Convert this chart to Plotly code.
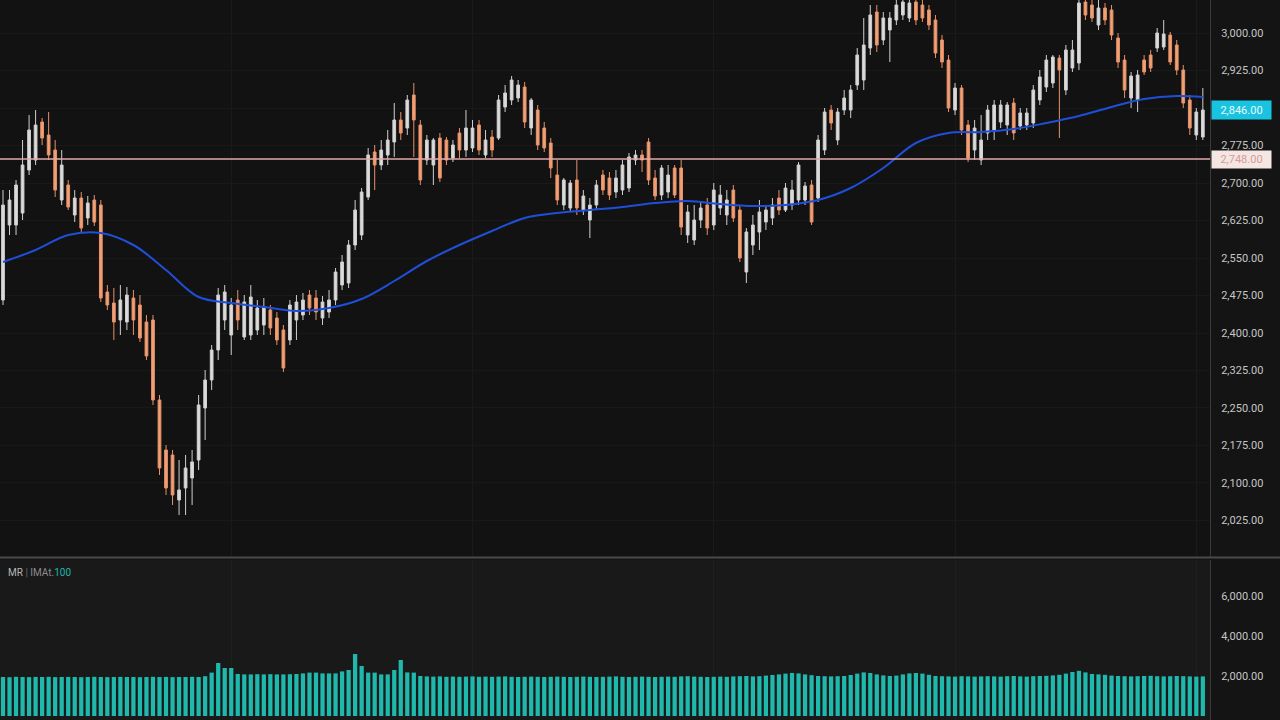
import plotly.graph_objects as go

# ---------------- data ----------------
idx = list(range(185))

open_ = [2466, 2616, 2616, 2640, 2726, 2746, 2822, 2796, 2766, 2666,
         2696, 2636, 2670, 2630, 2666, 2656, 2482, 2460, 2426, 2422,
         2470, 2456, 2422, 2426, 2266, 2166, 2156, 2066, 2090, 2110,
         2146, 2250, 2306, 2366, 2426, 2396, 2466, 2392, 2396, 2406,
         2416, 2446, 2430, 2406, 2386, 2426, 2436, 2476, 2470, 2430,
         2442, 2466, 2496, 2500, 2576, 2596, 2672, 2762, 2736, 2756,
         2782, 2826, 2810, 2876, 2816, 2746, 2736, 2790, 2786, 2750,
         2800, 2766, 2770, 2816, 2756, 2792, 2790, 2852, 2866, 2870,
         2892, 2810, 2846, 2810, 2780, 2716, 2656, 2650, 2706, 2646,
         2626, 2656, 2716, 2710, 2682, 2686, 2690, 2746, 2756, 2782,
         2710, 2676, 2682, 2730, 2730, 2596, 2586, 2626, 2656, 2616,
         2650, 2636, 2686, 2646, 2522, 2576, 2602, 2622, 2630, 2670,
         2646, 2656, 2666, 2666, 2696, 2670, 2766, 2846, 2786, 2846,
         2846, 2896, 2906, 2970, 3042, 2986, 3006, 3026, 3036, 3030,
         3062, 3056, 3046, 3026, 2986, 2946, 2846, 2890, 2816, 2766,
         2746, 2800, 2806, 2822, 2816, 2860, 2814, 2816, 2820, 2866,
         2892, 2900, 2950, 2886, 2930, 2940, 3062, 3056, 3016, 3050,
         3046, 2990, 2946, 2870, 2866, 2946, 2956, 2970, 2972, 2996,
         2976, 2926, 2866, 2796, 2792]

close = [2656, 2666, 2696, 2736, 2806, 2816, 2790, 2756, 2686, 2736,
         2652, 2670, 2610, 2660, 2622, 2470, 2456, 2422, 2466, 2476,
         2426, 2390, 2354, 2266, 2130, 2090, 2076, 2086, 2130, 2142,
         2256, 2306, 2366, 2476, 2482, 2456, 2426, 2462, 2472, 2450,
         2452, 2410, 2386, 2330, 2456, 2462, 2466, 2450, 2442, 2462,
         2466, 2522, 2542, 2576, 2646, 2682, 2756, 2736, 2766, 2786,
         2826, 2800, 2866, 2826, 2706, 2786, 2786, 2710, 2746, 2776,
         2766, 2810, 2810, 2766, 2786, 2766, 2866, 2880, 2906, 2896,
         2822, 2866, 2776, 2770, 2730, 2666, 2706, 2700, 2650, 2674,
         2656, 2696, 2686, 2676, 2710, 2736, 2752, 2756, 2746, 2706,
         2674, 2730, 2716, 2676, 2612, 2642, 2626, 2650, 2610, 2686,
         2676, 2666, 2630, 2550, 2602, 2616, 2642, 2646, 2656, 2646,
         2690, 2686, 2736, 2694, 2622, 2786, 2842, 2820, 2842, 2870,
         2886, 2956, 2976, 3036, 2976, 3030, 3030, 3056, 3062, 3060,
         3026, 3030, 3016, 2960, 2942, 2850, 2890, 2806, 2750, 2810,
         2786, 2846, 2856, 2856, 2856, 2800, 2840, 2840, 2886, 2912,
         2946, 2952, 2926, 2966, 2966, 3060, 3036, 3030, 3050, 3026,
         2996, 2942, 2886, 2914, 2916, 2922, 2930, 3000, 2998, 2942,
         2926, 2860, 2810, 2842, 2846]

high = [2686, 2686, 2706, 2786, 2836, 2846, 2830, 2842, 2786, 2766,
        2706, 2686, 2682, 2674, 2676, 2666, 2496, 2490, 2496, 2492,
        2486, 2476, 2436, 2436, 2276, 2176, 2166, 2146, 2156, 2166,
        2276, 2326, 2376, 2490, 2496, 2470, 2486, 2476, 2496, 2466,
        2470, 2456, 2442, 2416, 2466, 2476, 2480, 2486, 2486, 2474,
        2486, 2530, 2556, 2586, 2666, 2690, 2770, 2776, 2786, 2806,
        2860, 2842, 2876, 2900, 2826, 2796, 2790, 2800, 2792, 2786,
        2810, 2846, 2826, 2826, 2806, 2806, 2876, 2896, 2914, 2906,
        2902, 2870, 2856, 2822, 2790, 2746, 2710, 2706, 2746, 2686,
        2670, 2706, 2726, 2722, 2726, 2746, 2760, 2766, 2766, 2790,
        2726, 2736, 2736, 2736, 2746, 2656, 2656, 2662, 2670, 2700,
        2696, 2686, 2696, 2656, 2610, 2636, 2666, 2656, 2670, 2686,
        2700, 2706, 2742, 2702, 2706, 2796, 2850, 2856, 2850, 2886,
        2896, 2970, 3030, 3056, 3056, 3042, 3042, 3066, 3066, 3066,
        3066, 3066, 3056, 3036, 2996, 2956, 2900, 2896, 2826, 2826,
        2836, 2856, 2866, 2866, 2862, 2870, 2850, 2850, 2896, 2926,
        2956, 2956, 2956, 2976, 2986, 3066, 3066, 3066, 3066, 3060,
        3056, 3000, 2956, 2922, 2926, 2956, 2966, 3010, 3026, 3002,
        2986, 2936, 2876, 2850, 2890]

low = [2456, 2596, 2596, 2626, 2716, 2736, 2776, 2746, 2672, 2656,
       2646, 2622, 2602, 2616, 2614, 2462, 2446, 2386, 2396, 2406,
       2396, 2382, 2346, 2256, 2116, 2076, 2056, 2036, 2036, 2056,
       2126, 2186, 2286, 2346, 2406, 2356, 2406, 2386, 2386, 2396,
       2396, 2396, 2376, 2322, 2376, 2386, 2426, 2436, 2426, 2416,
       2430, 2456, 2486, 2490, 2566, 2586, 2666, 2686, 2726, 2736,
       2752, 2786, 2796, 2752, 2696, 2736, 2696, 2702, 2736, 2742,
       2750, 2752, 2762, 2756, 2750, 2752, 2786, 2842, 2856, 2862,
       2810, 2796, 2766, 2762, 2710, 2656, 2646, 2642, 2636, 2636,
       2590, 2646, 2676, 2666, 2670, 2676, 2682, 2736, 2722, 2696,
       2666, 2666, 2670, 2670, 2596, 2580, 2576, 2610, 2596, 2606,
       2636, 2616, 2622, 2542, 2500, 2556, 2566, 2606, 2616, 2636,
       2642, 2646, 2656, 2656, 2616, 2662, 2756, 2806, 2776, 2836,
       2830, 2886, 2886, 2956, 2962, 2976, 2942, 3016, 3026, 3022,
       3016, 3022, 3006, 2950, 2930, 2842, 2836, 2796, 2742, 2746,
       2736, 2786, 2786, 2810, 2796, 2786, 2806, 2806, 2810, 2856,
       2882, 2890, 2790, 2876, 2922, 2926, 3026, 3022, 3006, 3016,
       2986, 2930, 2870, 2850, 2842, 2916, 2922, 2962, 2966, 2936,
       2916, 2850, 2796, 2786, 2786]

# moving average line, read every 5 candles
ma_idx = [0, 5, 10, 15, 20, 25, 30, 35, 40, 45, 50, 55, 60, 65, 70, 75, 80, 85, 90,
          95, 100, 105, 110, 115, 120, 125, 130, 135, 140, 145, 150, 155, 160, 165,
          170, 175, 180, 184]
ma_val = [2542, 2566, 2596, 2600, 2576, 2526, 2472, 2460, 2452, 2444, 2450, 2468,
          2504, 2544, 2576, 2604, 2630, 2640, 2646, 2652, 2660, 2664, 2658, 2654,
          2656, 2666, 2690, 2730, 2780, 2800, 2802, 2808, 2820, 2834, 2852, 2868,
          2874, 2872]

volume = [1950, 1940, 1960, 1950, 1945, 1955, 1950, 1960, 1945, 1950,
          1955, 1950, 1940, 1950, 1960, 1950, 1945, 1950, 1955, 1950,
          1950, 1940, 1950, 1960, 1950, 1955, 1945, 1950, 1950, 1960,
          1950, 1990, 2170, 2650, 2400, 2400, 2100, 2080, 2080, 2090,
          2080, 2090, 2080, 2080, 2090, 2100, 2130, 2170, 2170, 2130,
          2130, 2130, 2230, 2300, 3100, 2500, 2170, 2170, 2080, 2080,
          2300, 2800, 2180, 2170, 2000, 1980, 1970, 1980, 1960, 1970,
          1960, 1970, 1980, 1960, 1970, 1960, 1970, 1980, 1960, 1950,
          1960, 1970, 1960, 1950, 1960, 1970, 1960, 1950, 1960, 1970,
          1960, 1950, 1960, 1970, 1980, 1960, 1950, 1960, 1970, 1960,
          1950, 1960, 1970, 1960, 1980, 1990, 1970, 1960, 1950, 1960,
          1970, 1960, 1980, 1990, 2000, 1980, 1990, 2020, 2050, 2080,
          2120, 2150, 2130, 2080, 2040, 2000, 1990, 1980, 1990, 2000,
          2050, 2120, 2180, 2150, 2080, 2030, 2000, 2020, 2080, 2130,
          2150, 2120, 2060, 2000, 1990, 1980, 1970, 1990, 1980, 1970,
          1980, 1990, 1980, 1970, 1990, 2000, 1980, 1970, 1990, 2000,
          2010, 2030, 2060, 2120, 2200, 2260, 2180, 2100, 2080, 2060,
          2020, 2000, 1990, 1980, 1990, 2000, 2010, 1990, 1980, 1990,
          2000, 1990, 1980, 1970, 1980]

last_price = 2846
ref_price = 2748

# ---------------- styles ----------------
UP = "#dcdcdc"
DOWN = "#f0a275"
TEAL = "#1fb8ac"
LABEL = "#c6c6c6"

fig = go.Figure()

fig.add_trace(go.Candlestick(
    x=idx, open=open_, high=high, low=low, close=close,
    increasing=dict(line=dict(color="#cfcfcf", width=1), fillcolor=UP),
    decreasing=dict(line=dict(color="#e8916a", width=1), fillcolor=DOWN),
    whiskerwidth=0, xaxis="x", yaxis="y", showlegend=False, hoverinfo="skip"))

fig.add_trace(go.Scatter(
    x=ma_idx, y=ma_val, mode="lines",
    line=dict(color="#1f4fd8", width=2, shape="spline", smoothing=1.0),
    xaxis="x", yaxis="y", showlegend=False, hoverinfo="skip"))

fig.add_trace(go.Bar(
    x=idx, y=volume, marker=dict(color=TEAL, line=dict(width=0)),
    xaxis="x2", yaxis="y2", showlegend=False, hoverinfo="skip"))

xr = [-0.46, 185.1]
fig.update_layout(
    width=1280, height=720,
    margin=dict(l=0, r=70, t=0, b=0),
    paper_bgcolor="#141414", plot_bgcolor="#121212",
    bargap=0.35, boxgap=0.4,
    showlegend=False,
    font=dict(family="Roboto, DejaVu Sans, sans-serif", color=LABEL, size=11),
    xaxis=dict(domain=[0, 1], range=xr, anchor="y", showticklabels=False,
               showgrid=True, gridcolor="#1a1a1a", dtick=37, tick0=35,
               zeroline=False, rangeslider=dict(visible=False), ticks=""),
    xaxis2=dict(domain=[0, 1], range=xr, anchor="y2", matches="x",
                showticklabels=False, showgrid=True, gridcolor="#1f1f1f",
                dtick=37, tick0=35, zeroline=False, ticks=""),
    yaxis=dict(domain=[0.2264, 1], range=[1952, 3066], side="right", anchor="x",
               tickmode="linear", tick0=3000, dtick=75, tickformat=",.2f",
               tickfont=dict(color=LABEL, size=11), ticks="", ticklabelstandoff=8,
               showgrid=True, gridcolor="#191919", zeroline=False,
               showline=True, linecolor="#3a3a3a", linewidth=1),
    yaxis2=dict(domain=[0, 0.2222], range=[-200, 7800], side="right", anchor="x2",
                tickmode="linear", tick0=0, dtick=2000, tickformat=",.2f",
                tickfont=dict(color=LABEL, size=11), ticks="", ticklabelstandoff=8,
                showgrid=False, zeroline=False,
                showline=True, linecolor="#3a3a3a", linewidth=1),
    shapes=[
        dict(type="rect", xref="x2 domain", yref="y2 domain", x0=0, x1=1, y0=0, y1=1,
             fillcolor="#191919", line=dict(width=0), layer="below"),
        dict(type="line", xref="paper", yref="y", x0=0, x1=1, y0=ref_price, y1=ref_price,
             line=dict(color="#e3a9a9", width=1.5)),
        dict(type="line", xref="paper", yref="paper", x0=0, x1=1.06,
             y0=0.2257, y1=0.2257, line=dict(color="#4a4a4a", width=2)),
    ],
    annotations=[
        dict(xref="paper", yref="y", x=1.0, y=last_price, xanchor="left", xshift=1,
             text="2,846.00", showarrow=False, bgcolor="#19c3e0",
             font=dict(color="#e8fbff", size=11), width=57, height=16, align="center"),
        dict(xref="paper", yref="y", x=1.0, y=ref_price, xanchor="left", xshift=1,
             text="2,748.00", showarrow=False, bgcolor="#f4e6e2",
             font=dict(color="#d69b9b", size=11), width=57, height=15, align="center"),
        dict(xref="paper", yref="paper", x=0.005, y=(720 - 572) / 720,
             xanchor="left", yanchor="middle", showarrow=False,
             text="MR <span style='color:#6a6a6a'>|</span> "
                  "<span style='color:#8c8c8c'>IMAt.</span>"
                  "<span style='color:#1fb8ac'>100</span>",
             font=dict(color="#b8b8b8", size=10)),
    ],
)

fig.write_html("out.html",
               config={"displayModeBar": False},
               post_script="document.body.style.margin='0';"
                           "document.body.style.overflow='hidden';"
                           "document.body.style.background='#141414';")
